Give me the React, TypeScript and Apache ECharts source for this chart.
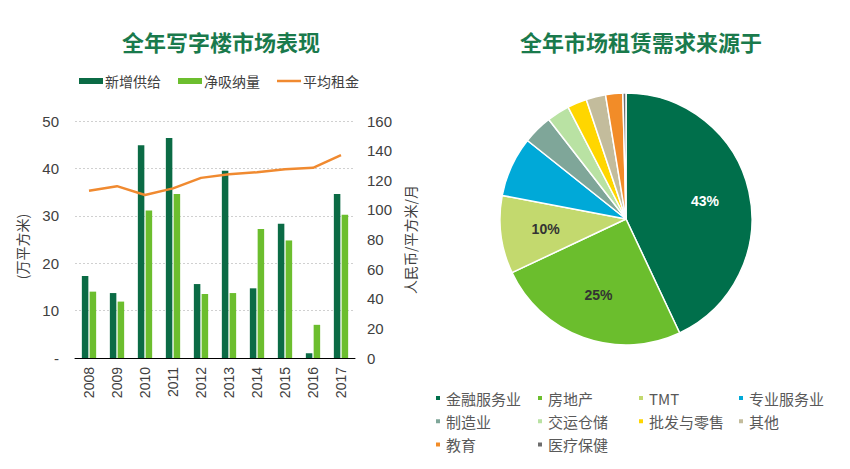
import React, { useEffect, useRef } from "react";
import * as echarts from "echarts";

const years = ["2008", "2009", "2010", "2011", "2012", "2013", "2014", "2015", "2016", "2017"];
const newSupply = [17.3, 13.7, 44.9, 46.4, 15.6, 39.5, 14.7, 28.3, 1.0, 34.6];
const netAbsorption = [14.0, 11.9, 31.1, 34.6, 13.5, 13.7, 27.2, 24.8, 7.0, 30.2];
const avgRent = [112.9, 116.0, 110.0, 114.5, 121.6, 124.1, 125.4, 127.5, 128.4, 136.9];

const sectors = ["金融服务业", "房地产", "TMT", "专业服务业", "制造业", "交运仓储", "批发与零售", "其他", "教育", "医疗保健"];
const sectorShares = [43, 25, 10, 7.7, 3.8, 2.9, 2.5, 2.5, 2.2, 0.4];
const sectorColors = ["#006F4B", "#6BBE2D", "#C3D96E", "#00A9D8", "#7FA699", "#B9E2A3", "#FFD600", "#C3BC9C", "#F28C28", "#6D6D6D"];
const labeledSectors = ["金融服务业", "房地产", "TMT"];

const legendColumns = [
  ["金融服务业", "制造业", "教育"],
  ["房地产", "交运仓储", "医疗保健"],
  ["TMT", "批发与零售"],
  ["专业服务业", "其他"],
];
const legendColumnX = [434, 536, 637, 737];

const CJK = "'Noto Sans CJK SC', 'Noto Sans', sans-serif";
const LAT = "'Liberation Sans', Arial, sans-serif";

export default function App() {
  const ref = useRef<HTMLDivElement>(null);
  useEffect(() => {
    if (!ref.current) return;
    const chart = echarts.init(ref.current, undefined, { renderer: "svg" });
    const pieData = sectors.map((n, i) => ({ name: n, value: sectorShares[i], itemStyle: { color: sectorColors[i] } }));
    const option: any = {
      animation: false,
      backgroundColor: "#ffffff",
      title: [
        {
          text: "全年写字楼市场表现",
          left: 221,
          top: 30,
          textAlign: "center",
          padding: 0,
          textStyle: { fontFamily: CJK, fontSize: 22, fontWeight: "bold", color: "#1A7A4C" },
        },
        {
          text: "全年市场租赁需求来源于",
          left: 641,
          top: 30,
          textAlign: "center",
          padding: 0,
          textStyle: { fontFamily: CJK, fontSize: 22, fontWeight: "bold", color: "#1A7A4C" },
        },
      ],
      legend: [
        {
          data: [
            { name: "新增供给", icon: "rect" },
            { name: "净吸纳量", icon: "rect" },
            { name: "平均租金", icon: "path://M0,0 L24,0 L24,2.5 L0,2.5 Z" },
          ],
          left: 79,
          top: 74,
          padding: 0,
          itemWidth: 24,
          itemHeight: 6,
          itemGap: 17,
          symbolKeepAspect: true,
          textStyle: { fontFamily: CJK, fontSize: 14, color: "#404040", padding: [0, 0, 0, -3] },
        },
        ...legendColumns.map((col, i) => ({
          data: col.map((n) => ({ name: n, icon: "rect" })),
          orient: "vertical",
          left: legendColumnX[i],
          top: 390,
          padding: 0,
          itemWidth: 6,
          itemHeight: 6,
          itemGap: 7.3,
          textStyle: { fontFamily: CJK, fontSize: 15, lineHeight: 16, color: "#595959", padding: [0, 0, 0, 0] },
        })),
      ],
      grid: { left: 75, right: 495, top: 121, bottom: 111 },
      xAxis: {
        type: "category",
        data: years,
        axisLine: { show: true, lineStyle: { color: "#000000", width: 1 } },
        axisTick: { show: false },
        axisLabel: { rotate: 90, fontFamily: LAT, fontSize: 14, color: "#404040", margin: 9 },
      },
      yAxis: [
        {
          type: "value",
          min: 0,
          max: 50,
          interval: 10,
          name: "(万平方米)",
          nameLocation: "middle",
          nameGap: 46,
          nameRotate: 90,
          nameTextStyle: { fontFamily: CJK, fontSize: 14, color: "#404040", padding: [0, 0, 0, -14] },
          axisLine: { show: false },
          axisTick: { show: false },
          axisLabel: {
            fontFamily: LAT,
            fontSize: 15,
            color: "#404040",
            margin: 16,
            formatter: (v: number) => (v === 0 ? "-" : String(v)),
          },
          splitLine: { show: true, lineStyle: { color: "#D0D0D0", type: [2, 2] } },
        },
        {
          type: "value",
          min: 0,
          max: 160,
          interval: 20,
          name: "人民币/平方米/月",
          nameLocation: "middle",
          nameGap: 48,
          nameRotate: 90,
          nameTextStyle: { fontFamily: CJK, fontSize: 14, color: "#404040" },
          axisLine: { show: false },
          axisTick: { show: false },
          axisLabel: { fontFamily: LAT, fontSize: 15, color: "#404040", margin: 12 },
          splitLine: { show: false },
        },
      ],
      series: [
        {
          name: "新增供给",
          type: "bar",
          data: newSupply,
          barWidth: 6.5,
          barGap: "20%",
          itemStyle: { color: "#0B6B45" },
        },
        {
          name: "净吸纳量",
          type: "bar",
          data: netAbsorption,
          barWidth: 6.5,
          barGap: "20%",
          itemStyle: { color: "#6CBE2E" },
        },
        {
          name: "平均租金",
          type: "line",
          yAxisIndex: 1,
          data: avgRent,
          symbol: "none",
          lineStyle: { color: "#F08A30", width: 2.5 },
          itemStyle: { color: "#F08A30" },
        },
        {
          name: "需求来源",
          type: "pie",
          center: [626, 219],
          radius: [0, 126],
          startAngle: 90,
          clockwise: true,
          data: pieData,
          itemStyle: { borderColor: "#ffffff", borderWidth: 1.5 },
          label: { show: false },
          labelLine: { show: false },
          emphasis: { disabled: true },
        },
        {
          name: "需求来源标签",
          type: "pie",
          center: [626, 219],
          radius: [30, 126],
          startAngle: 90,
          clockwise: true,
          silent: true,
          z: 5,
          data: sectors.map((n, i) => ({
            name: n,
            value: sectorShares[i],
            itemStyle: { color: "rgba(0,0,0,0)", borderWidth: 0 },
            label: {
              show: labeledSectors.indexOf(n) >= 0,
              color: i === 0 ? "#ffffff" : "#333333",
            },
          })),
          label: {
            position: "inside",
            fontFamily: LAT,
            fontSize: 14,
            fontWeight: "bold",
            formatter: (p: any) => Math.round(p.value) + "%",
          },
          labelLine: { show: false },
          emphasis: { disabled: true },
          tooltip: { show: false },
        },
      ],
    };
    chart.setOption(option);
    return () => chart.dispose();
  }, []);
  return (
    <div
      ref={ref}
      style={{ position: "fixed", left: 0, top: 0, width: 850, height: 469, background: "#fff" }}
    />
  );
}
